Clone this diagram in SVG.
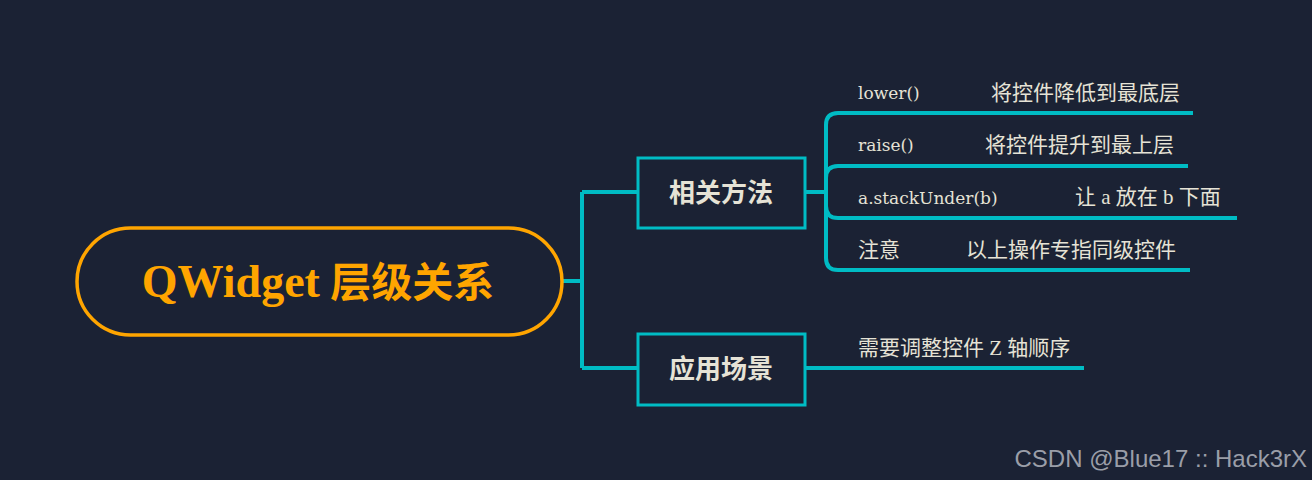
<svg xmlns="http://www.w3.org/2000/svg" width="1312" height="480" viewBox="0 0 1312 480">
<style>
.c{fill:none;stroke:#00bcc4;stroke-width:4;stroke-linejoin:round}
.box{fill:#1b2234;stroke:#00bcc4;stroke-width:3}
.bl{font-family:"Noto Sans CJK SC",sans-serif;font-weight:bold;font-size:26px;fill:#e6e3d6;text-anchor:middle}
.t{font-family:"DejaVu Serif","Noto Sans CJK SC",serif;font-size:17px;fill:#e6e3d6}
.z{font-family:"Liberation Serif","Noto Sans CJK SC",serif;font-size:21px;fill:#e6e3d6}
</style>
<rect width="1312" height="480" fill="#1b2234"/>
<g id="connectors">
<path class="c" d="M562 281H582M582 192V368M582 192H638M582 368H638"/>
<path class="c" d="M805 192H826V125Q826 113 838 113H1193M826 178Q826 166 838 166H1188M826 192V206Q826 218 838 218H1237M826 258Q826 270 838 270H1190M826 192V258"/>
<path class="c" d="M805 368H1084"/>
</g>
<g id="root">
<rect x="77" y="228" width="485" height="107" rx="53.5" fill="#1b2234" stroke="#ffa500" stroke-width="3.5"/>
<text x="318" y="297" text-anchor="middle" font-family="Liberation Serif,'Noto Sans CJK SC',serif" font-weight="bold" font-size="41" fill="#ffa500"><tspan font-size="46">QWidget</tspan> 层级关系</text>
</g>
<g id="n1"><rect class="box" x="638" y="158" width="167" height="70"/><text class="bl" x="721" y="202">相关方法</text></g>
<g id="n2"><rect class="box" x="638" y="334" width="167" height="71"/><text class="bl" x="721" y="378">应用场景</text></g>
<g id="i1"><text class="t" x="858" y="99">lower()</text><text class="z" x="991" y="100">将控件降低到最底层</text></g>
<g id="i2"><text class="t" x="858" y="151">raise()</text><text class="z" x="985" y="152">将控件提升到最上层</text></g>
<g id="i3"><text class="t" x="858" y="204">a.stackUnder(b)</text><text class="z" x="1075" y="204">让 a 放在 b 下面</text></g>
<g id="i4"><text class="z" x="858" y="257">注意</text><text class="z" x="966" y="257">以上操作专指同级控件</text></g>
<g id="i5"><text class="z" x="858" y="355">需要调整控件 Z 轴顺序</text></g>
<text x="1307" y="467" text-anchor="end" font-family="Liberation Sans,sans-serif" font-size="24" fill="#9a9ea8">CSDN @Blue17 :: Hack3rX</text>
</svg>
